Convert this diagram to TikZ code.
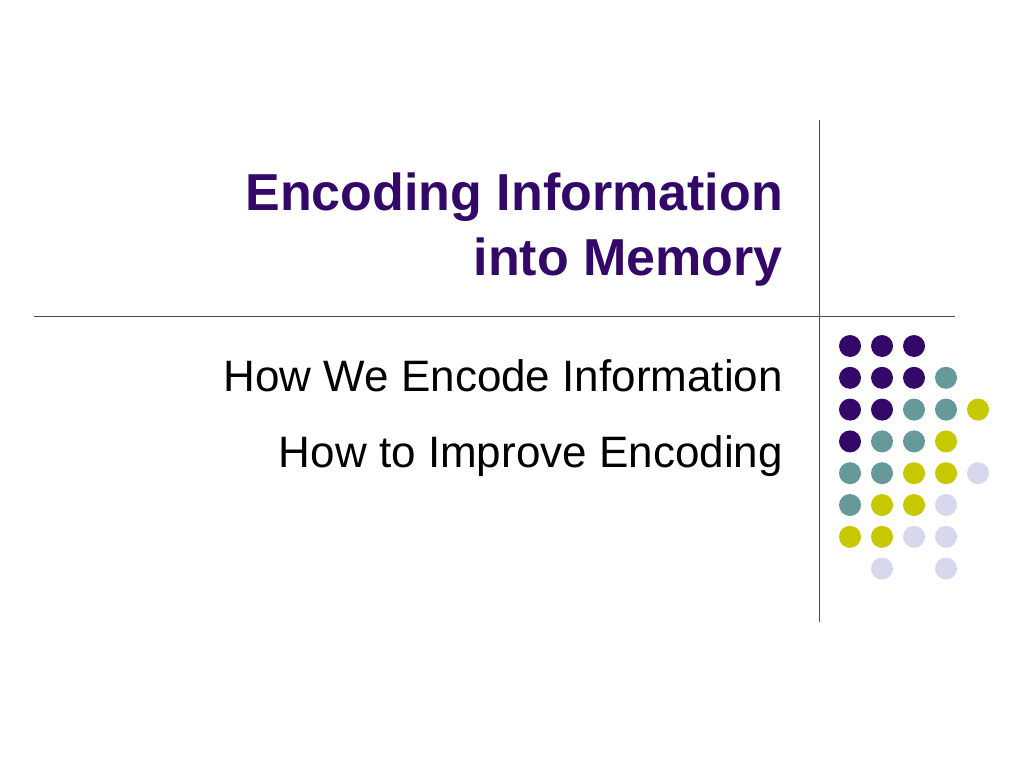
\documentclass[tikz,border=0pt]{standalone}
\usepackage{fontspec}
\setmainfont{Liberation Sans}
\definecolor{P}{HTML}{340868}
\definecolor{T}{HTML}{669999}
\definecolor{Y}{HTML}{C8C800}
\definecolor{L}{HTML}{D8D8EC}
\definecolor{N}{HTML}{FFFFFF}
\begin{document}
\begin{tikzpicture}[x=1pt,y=-1pt,
  title/.style={anchor=base east,font=\bfseries\fontsize{52}{60}\selectfont,text=P,inner sep=0},
  body/.style={anchor=base east,font=\fontsize{44}{52}\selectfont,inner sep=0},
  rule/.style={draw=black!70,line width=0.8pt}]
\fill[white] (0,0) rectangle (1024,768);
\useasboundingbox (0,0) rectangle (1024,768);
\node[title] (t1) at (783,210) {Encoding Information};
\node[title] (t2) at (783,275) {into Memory};
\node[body] (b1) at (783,391) {How We Encode Information};
\node[body] (b2) at (783,467) {How to Improve Encoding};
\coordinate (vt) at (819,120); \coordinate (vb) at (819,622);
\coordinate (hl) at (34,316); \coordinate (hr) at (955,316);
\draw[rule] (vt) -- (vb);
\draw[rule] (hl) -- (hr);
\foreach \row [count=\r from 0] in {{P,P,P},{P,P,P,T},{P,P,T,T,Y},{P,T,T,Y},{T,T,Y,Y,L},{T,Y,Y,L},{Y,Y,L,L},{N,L,N,L}}{
  \foreach \c [count=\k from 0] in \row {
    \fill[fill=\c] (850+32*\k,346+31.8*\r) circle (11);
  }
}
\end{tikzpicture}
\end{document}
